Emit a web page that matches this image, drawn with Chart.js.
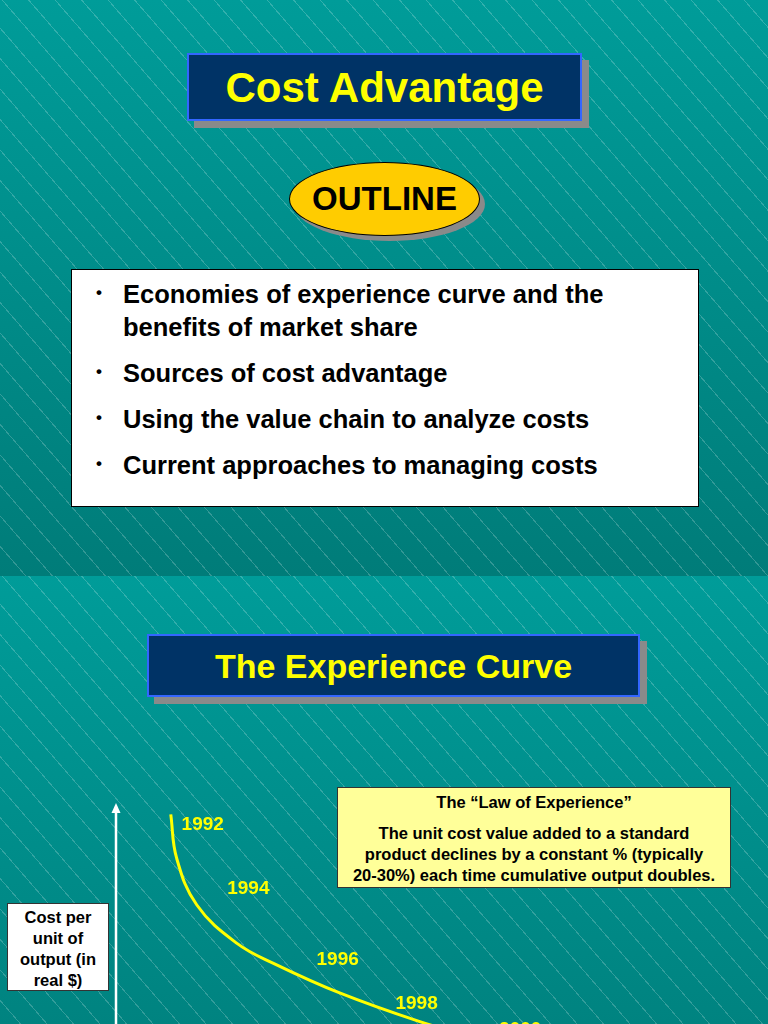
<!DOCTYPE html>
<html lang="en">

<head>
    <meta charset="UTF-8">
    <meta name="viewport" content="width=device-width, initial-scale=1.0">
    <title>Cost Advantage - The Experience Curve</title>
    <script src="https://cdn.jsdelivr.net/npm/chart.js"></script>
    <style>
        body {
            margin: 0;
            width: 768px;
            height: 1024px;
            overflow: hidden;
            position: relative;
            font-family: "Liberation Sans", Arial, sans-serif;
            font-weight: bold;
        }

        .slide {
            position: absolute;
            left: 0;
            width: 768px;
            height: 576px;
            background-image:
                repeating-linear-gradient(49deg, rgba(255, 255, 255, 0) 0 19px, rgba(255, 255, 255, 0.2) 19px 20px),
                linear-gradient(#009c99, #007c79);
        }

        .title {
            position: absolute;
            box-sizing: border-box;
            background: #003366;
            border: 2px solid #3366ff;
            box-shadow: 7px 7px 0 #8a8a8a;
            color: #ffff00;
            text-align: center;
        }

        .outline {
            position: absolute;
            left: 289px;
            top: 162px;
            width: 191px;
            height: 74px;
            box-sizing: border-box;
            border: 1.5px solid #000;
            border-radius: 50%;
            background: #ffcc00;
            box-shadow: 5px 5px 0 #8a8a8a;
            font-size: 33px;
            line-height: 71px;
            text-align: center;
            color: #000;
        }

        .bullets {
            position: absolute;
            left: 71px;
            top: 269px;
            width: 628px;
            height: 238px;
            box-sizing: border-box;
            background: #fff;
            border: 1px solid #000;
            margin: 0;
            padding: 8px 0 0 51px;
            list-style: none;
            font-size: 25.5px;
            line-height: 33px;
            color: #000;
        }

        .bullets li {
            position: relative;
            margin-bottom: 13px;
        }

        .bullets li::before {
            content: "\2022";
            position: absolute;
            left: -27px;
            top: 0;
            font-size: 17px;
            line-height: 30px;
        }

        .law {
            position: absolute;
            left: 337px;
            top: 787px;
            width: 394px;
            height: 101px;
            box-sizing: border-box;
            background: #ffff99;
            border: 1px solid #333;
            text-align: center;
            font-size: 16.5px;
            line-height: 21px;
            color: #000;
            padding-top: 4px;
        }

        .law p {
            margin: 0;
        }

        .ylabel {
            position: absolute;
            left: 7px;
            top: 903px;
            width: 102px;
            height: 88px;
            box-sizing: border-box;
            background: #fff;
            border: 1px solid #333;
            text-align: center;
            font-size: 16.5px;
            line-height: 21px;
            padding-top: 3px;
            color: #000;
        }

        #curveBox {
            position: absolute;
            left: 0;
            top: 795px;
            width: 768px;
            height: 320px;
        }
    </style>
</head>

<body>
    <div class="slide" style="top:0"></div>
    <div class="slide" style="top:576px"></div>

    <div class="title" style="left:187px;top:53px;width:395px;height:68px;font-size:42px;line-height:66px">Cost Advantage</div>
    <div class="outline">OUTLINE</div>
    <ul class="bullets">
        <li>Economies of experience curve and the<br>benefits of market share</li>
        <li>Sources of cost advantage</li>
        <li>Using the value chain to analyze costs</li>
        <li>Current approaches to managing costs</li>
    </ul>

    <div class="title" style="left:147px;top:634px;width:493px;height:63px;font-size:34px;line-height:61px">The Experience Curve</div>

    <div id="curveBox"><canvas id="experienceChart"></canvas></div>

    <div class="law">
        <p>The “Law of Experience”</p>
        <p style="margin-top:10px">The unit cost value added to a standard<br>product declines by a constant % (typically<br>20-30%) each time cumulative output doubles.</p>
    </div>
    <div class="ylabel">Cost per<br>unit of<br>output (in<br>real $)</div>

    <script>
        // curve: cumulative output vs cost per unit (0-100 scale)
        const output = [8.4, 9.3, 12.4, 18.5, 24.4, 34.4, 46.6, 54.3];
        const cost = [96.2, 81.6, 66.0, 53.3, 46.3, 36.6, 27.1, 22.3];

        // year labels along the curve
        const years = ['1992', '1994', '1996', '1998', '2000'];
        const labelOutput = [13.3, 20.3, 34.0, 46.1, 62.0];
        const labelCost = [92.7, 71.3, 47.7, 33.2, 24.3];

        // white y axis with arrow + year labels
        const axisAndYears = {
            id: 'axisAndYears',
            beforeDatasetsDraw(chart) {
                const { ctx, scales } = chart;
                const x0 = scales.x.getPixelForValue(0);
                const yTop = scales.y.getPixelForValue(100);
                const yBottom = scales.y.getPixelForValue(0);
                ctx.save();
                ctx.strokeStyle = '#ffffff';
                ctx.fillStyle = '#ffffff';
                ctx.lineWidth = 2.5;
                ctx.beginPath();
                ctx.moveTo(x0, yTop + 6);
                ctx.lineTo(x0, yBottom);
                ctx.stroke();
                ctx.beginPath();
                ctx.moveTo(x0, yTop);
                ctx.lineTo(x0 - 4.5, yTop + 10);
                ctx.lineTo(x0 + 4.5, yTop + 10);
                ctx.closePath();
                ctx.fill();
                ctx.restore();
            },
            afterDatasetsDraw(chart) {
                const { ctx, scales } = chart;
                ctx.save();
                ctx.fillStyle = '#ffff00';
                ctx.font = 'bold 19px "Liberation Sans", Arial, sans-serif';
                ctx.textAlign = 'center';
                ctx.textBaseline = 'middle';
                years.forEach((yr, i) => {
                    ctx.fillText(yr, scales.x.getPixelForValue(labelOutput[i]), scales.y.getPixelForValue(labelCost[i]));
                });
                ctx.restore();
            }
        };

        new Chart(document.getElementById('experienceChart'), {
            type: 'line',
            data: {
                datasets: [{
                    label: 'Cost per unit',
                    data: output.map((x, i) => ({ x: x, y: cost[i] })),
                    borderColor: '#ffff00',
                    borderWidth: 3,
                    pointRadius: 0,
                    fill: false,
                    tension: 0.4
                }]
            },
            options: {
                responsive: true,
                maintainAspectRatio: false,
                animation: false,
                layout: {
                    padding: { left: 116, top: 8, right: 0, bottom: 12 }
                },
                plugins: {
                    legend: { display: false },
                    tooltip: { enabled: false }
                },
                scales: {
                    x: { type: 'linear', min: 0, max: 100, display: false },
                    y: { type: 'linear', min: 0, max: 100, display: false }
                }
            },
            plugins: [axisAndYears]
        });
    </script>
</body>

</html>
